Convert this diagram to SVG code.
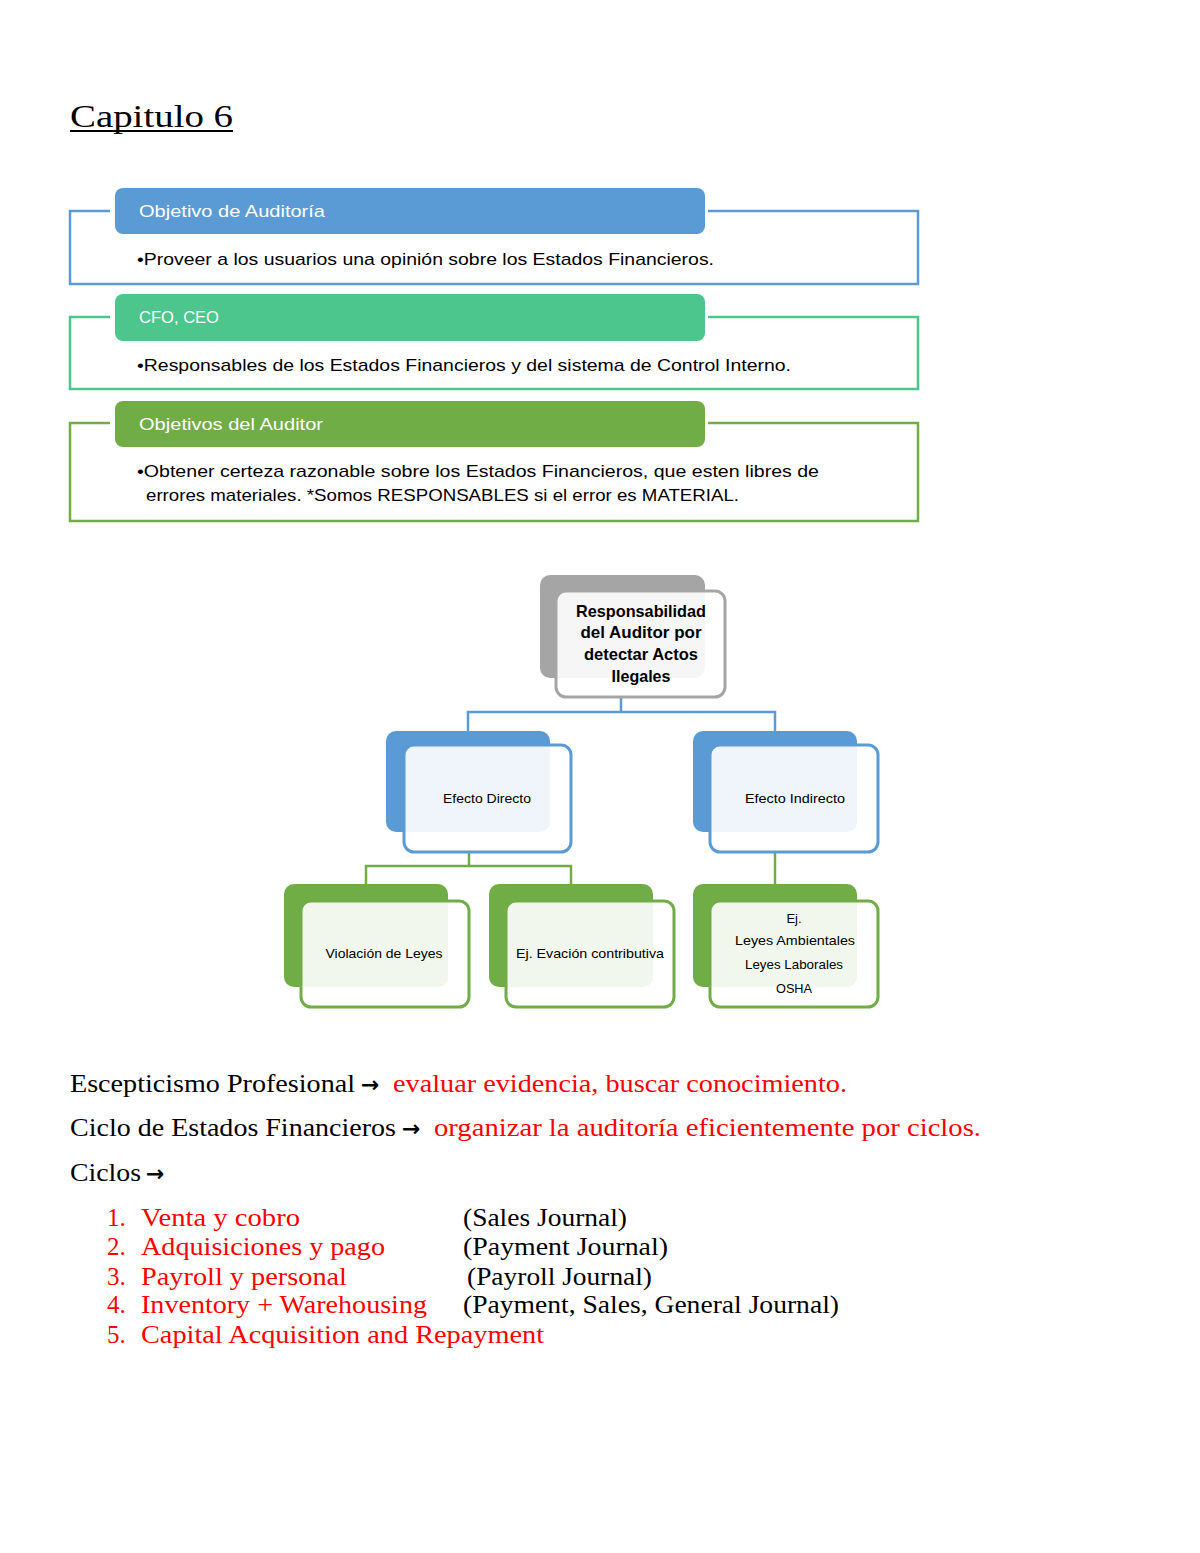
<svg xmlns="http://www.w3.org/2000/svg" width="1200" height="1553" viewBox="0 0 1200 1553">
<style>
.sans{font-family:"Liberation Sans","Open Sans",sans-serif}
.serif{font-family:"Liberation Serif","DejaVu Serif",serif}
.hdr{font-size:17px;fill:#ffffff}
.bul{font-size:17px;fill:#000}
.node{font-size:13px;fill:#000;text-anchor:middle}
.red{fill:#ff0000}
.blk{fill:#000}
.body{font-size:25px}
.arr{font-family:"DejaVu Sans",sans-serif;font-size:22px;font-weight:bold;fill:#000}
.blue{stroke:#5B9BD5}
.teal{stroke:#4DC68D}
.green{stroke:#70AD47}
.gray{stroke:#A5A5A5}
.card{fill:#ffffff;fill-opacity:0.9;stroke-width:3}
.conn{fill:none;stroke-width:2.5}
</style>
<rect width="1200" height="1553" fill="#ffffff"/>
<g id="title">
<text x="70" y="127" class="serif" font-size="32" fill="#000" textLength="163" lengthAdjust="spacingAndGlyphs">Capitulo 6</text>
<line x1="70" y1="131" x2="233" y2="131" stroke="#000" stroke-width="1.8"/>
</g>
<g id="box1">
<polyline points="110,211 70,211 70,284 918,284 918,211 708,211" fill="none" class="blue" stroke-width="2.5"/>
<rect x="115" y="188" width="590" height="46" rx="8" fill="#5B9BD5"/>
<text x="139" y="217" class="sans hdr" textLength="186" lengthAdjust="spacingAndGlyphs">Objetivo de Auditoría</text>
<text x="137" y="265" class="sans bul" textLength="577" lengthAdjust="spacingAndGlyphs">•Proveer a los usuarios una opinión sobre los Estados Financieros.</text>
</g>
<g id="box2">
<polyline points="110,317 70,317 70,389 918,389 918,317 708,317" fill="none" class="teal" stroke-width="2.5"/>
<rect x="115" y="294" width="590" height="47" rx="8" fill="#4DC68D"/>
<text x="139" y="323" class="sans hdr" textLength="80" lengthAdjust="spacingAndGlyphs">CFO, CEO</text>
<text x="137" y="371" class="sans bul" textLength="654" lengthAdjust="spacingAndGlyphs">•Responsables de los Estados Financieros y del sistema de Control Interno.</text>
</g>
<g id="box3">
<polyline points="110,423 70,423 70,521 918,521 918,423 708,423" fill="none" class="green" stroke-width="2.5"/>
<rect x="115" y="401" width="590" height="46" rx="8" fill="#70AD47"/>
<text x="139" y="430" class="sans hdr" textLength="184" lengthAdjust="spacingAndGlyphs">Objetivos del Auditor</text>
<text x="137" y="477" class="sans bul" textLength="682" lengthAdjust="spacingAndGlyphs">•Obtener certeza razonable sobre los Estados Financieros, que esten libres de</text>
<text x="146" y="501" class="sans bul" textLength="593" lengthAdjust="spacingAndGlyphs">errores materiales. *Somos RESPONSABLES si el error es MATERIAL.</text>
</g>
<g id="connectors">
<polyline points="621,697 621,712" class="conn blue"/>
<polyline points="468,731 468,712 775,712 775,731" class="conn blue"/>
<polyline points="469,852 469,866" class="conn green"/>
<polyline points="366,884 366,866 571,866 571,884" class="conn green"/>
<polyline points="775,852 775,884" class="conn green"/>
</g>
<g id="node-root">
<rect x="540" y="575" width="165" height="103" rx="10" fill="#A5A5A5"/>
<rect x="556" y="591" width="169" height="106" rx="10" class="card gray"/>
<g class="sans" font-size="17" font-weight="bold" text-anchor="middle" fill="#000">
<text x="641" y="617" textLength="130" lengthAdjust="spacingAndGlyphs">Responsabilidad</text>
<text x="641" y="638" textLength="121" lengthAdjust="spacingAndGlyphs">del Auditor por</text>
<text x="641" y="660" textLength="114" lengthAdjust="spacingAndGlyphs">detectar Actos</text>
<text x="641" y="682" textLength="59" lengthAdjust="spacingAndGlyphs">Ilegales</text>
</g>
</g>
<g id="node-directo">
<rect x="386" y="731" width="164" height="101" rx="10" fill="#5B9BD5"/>
<rect x="404" y="745" width="167" height="107" rx="10" class="card blue"/>
<text x="487" y="803" class="sans node" textLength="88" lengthAdjust="spacingAndGlyphs">Efecto Directo</text>
</g>
<g id="node-indirecto">
<rect x="693" y="731" width="164" height="101" rx="10" fill="#5B9BD5"/>
<rect x="710" y="745" width="168" height="107" rx="10" class="card blue"/>
<text x="795" y="803" class="sans node" textLength="100" lengthAdjust="spacingAndGlyphs">Efecto Indirecto</text>
</g>
<g id="node-violacion">
<rect x="284" y="884" width="164" height="103" rx="10" fill="#70AD47"/>
<rect x="301" y="901" width="168" height="106" rx="10" class="card green"/>
<text x="384" y="958" class="sans node" textLength="117" lengthAdjust="spacingAndGlyphs">Violación de Leyes</text>
</g>
<g id="node-evacion">
<rect x="489" y="884" width="164" height="103" rx="10" fill="#70AD47"/>
<rect x="506" y="901" width="168" height="106" rx="10" class="card green"/>
<text x="590" y="958" class="sans node" textLength="148" lengthAdjust="spacingAndGlyphs">Ej. Evación contributiva</text>
</g>
<g id="node-ejemplos">
<rect x="693" y="884" width="164" height="103" rx="10" fill="#70AD47"/>
<rect x="710" y="901" width="168" height="106" rx="10" class="card green"/>
<text x="794" y="923" class="sans node">Ej.</text>
<text x="795" y="945" class="sans node" textLength="120" lengthAdjust="spacingAndGlyphs">Leyes Ambientales</text>
<text x="794" y="969" class="sans node" textLength="98" lengthAdjust="spacingAndGlyphs">Leyes Laborales</text>
<text x="794" y="993" class="sans node" textLength="36" lengthAdjust="spacingAndGlyphs">OSHA</text>
</g>
<g id="text-body" class="serif body">
<text x="70" y="1092" class="blk" textLength="285" lengthAdjust="spacingAndGlyphs">Escepticismo Profesional</text>
<text x="361" y="1092" class="arr">→</text>
<text x="393" y="1092" class="red" textLength="454" lengthAdjust="spacingAndGlyphs">evaluar evidencia, buscar conocimiento.</text>
<text x="70" y="1136" class="blk" textLength="326" lengthAdjust="spacingAndGlyphs">Ciclo de Estados Financieros</text>
<text x="402" y="1136" class="arr">→</text>
<text x="434" y="1136" class="red" textLength="547" lengthAdjust="spacingAndGlyphs">organizar la auditoría eficientemente por ciclos.</text>
<text x="70" y="1181" class="blk" textLength="71" lengthAdjust="spacingAndGlyphs">Ciclos</text>
<text x="146" y="1181" class="arr">→</text>
<g class="red">
<text x="107" y="1226">1.</text><text x="141" y="1226" textLength="159" lengthAdjust="spacingAndGlyphs">Venta y cobro</text>
<text x="107" y="1255">2.</text><text x="141" y="1255" textLength="244" lengthAdjust="spacingAndGlyphs">Adquisiciones y pago</text>
<text x="107" y="1285">3.</text><text x="141" y="1285" textLength="206" lengthAdjust="spacingAndGlyphs">Payroll y personal</text>
<text x="107" y="1313">4.</text><text x="141" y="1313" textLength="286" lengthAdjust="spacingAndGlyphs">Inventory + Warehousing</text>
<text x="107" y="1343">5.</text><text x="141" y="1343" textLength="403" lengthAdjust="spacingAndGlyphs">Capital Acquisition and Repayment</text>
</g>
<text x="463" y="1226" class="blk" textLength="164" lengthAdjust="spacingAndGlyphs">(Sales Journal)</text>
<text x="463" y="1255" class="blk" textLength="205" lengthAdjust="spacingAndGlyphs">(Payment Journal)</text>
<text x="467" y="1285" class="blk" textLength="185" lengthAdjust="spacingAndGlyphs">(Payroll Journal)</text>
<text x="463" y="1313" class="blk" textLength="376" lengthAdjust="spacingAndGlyphs">(Payment, Sales, General Journal)</text>
</g>
</svg>
